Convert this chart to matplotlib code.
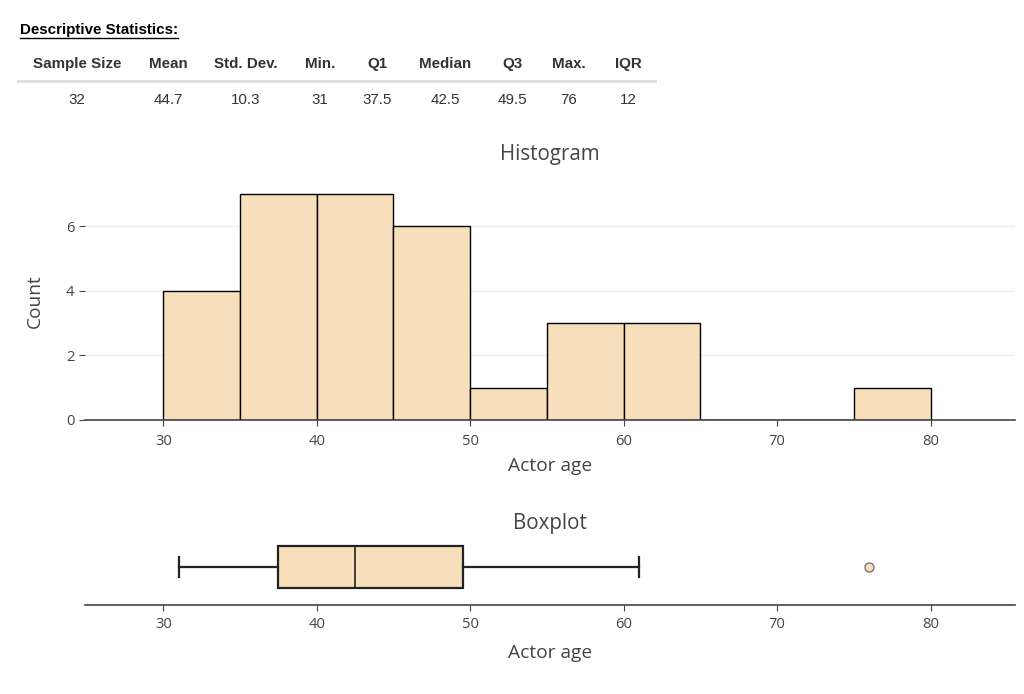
import matplotlib
matplotlib.use("Agg")
import matplotlib.pyplot as plt
import numpy as np

# Data
bin_edges = [30, 35, 40, 45, 50, 55, 60, 65, 70, 75, 80]
counts = [4, 7, 7, 6, 1, 3, 3, 0, 0, 1]
box_stats = {"whislo": 31, "q1": 37.5, "med": 42.5, "q3": 49.5, "whishi": 61, "fliers": [76]}
table_headers = ["Sample Size", "Mean", "Std. Dev.", "Min.", "Q1", "Median", "Q3", "Max.", "IQR"]
table_values = ["32", "44.7", "10.3", "31", "37.5", "42.5", "49.5", "76", "12"]
x_ticks = [30, 40, 50, 60, 70, 80]
y_ticks = [0, 2, 4, 6]

FILL = "#F8DFBB"
TXT = "#444444"
W, H = 1024, 694
fig = plt.figure(figsize=(W / 100, H / 100), dpi=100)

def fx(px):
    return px / W

def fy(py):
    return 1 - py / H

# Table
fig.text(fx(20), fy(30), "Descriptive Statistics:", fontsize=10.9, fontweight="bold",
         family="Liberation Sans", color="black", va="center", ha="left")
fig.add_artist(plt.Line2D([fx(20), fx(178)], [fy(37.5), fy(37.5)], color="black", lw=1))
col_x = [77, 168, 246, 320, 377, 445, 512, 569, 628]
for cx, h, v in zip(col_x, table_headers, table_values):
    fig.text(fx(cx), fy(64), h, fontsize=10.9, fontweight="bold", family="Liberation Sans",
             color="#333333", ha="center", va="center")
    fig.text(fx(cx), fy(100), v, fontsize=10.9, family="Liberation Sans",
             color="#333333", ha="center", va="center")
fig.add_artist(plt.Line2D([fx(18), fx(655)], [fy(81), fy(81)], color="#dddddd", lw=2))

font = "Open Sans"
xlim = (24.9, 85.5)
TICKFS = 10.6
LABFS = 13.8
TITFS = 14.8

# Histogram
ax = fig.add_axes([fx(85), fy(420), fx(930), fy(182) - fy(420)])
widths = np.diff(bin_edges)
ax.bar(bin_edges[:-1], counts, width=widths, align="edge", color=FILL,
       edgecolor="black", linewidth=1, zorder=3)
ax.set_xlim(*xlim)
ax.set_ylim(0, 7.37)
ax.set_xticks(x_ticks)
ax.set_yticks(y_ticks)
ax.grid(axis="y", color="#eeeeee", lw=1, zorder=0)
for s in ["top", "right", "left"]:
    ax.spines[s].set_visible(False)
ax.spines["bottom"].set_color(TXT)
ax.spines["bottom"].set_linewidth(1.2)
ax.spines["bottom"].set_zorder(4)
ax.tick_params(axis="both", colors=TXT, labelsize=TICKFS, length=4, width=0.8)
ax.tick_params(axis="x", pad=6)
for lab in ax.get_xticklabels() + ax.get_yticklabels():
    lab.set_family(font)
ax.set_xlabel("Actor age", fontsize=LABFS, color=TXT, family=font, labelpad=6)
ax.set_ylabel("Count", fontsize=LABFS, color=TXT, family=font, labelpad=16)
ax.set_title("Histogram", fontsize=TITFS, color=TXT, family=font, pad=16)

# Boxplot
bx = fig.add_axes([fx(85), fy(605), fx(930), fy(530) - fy(605)])
st = dict(box_stats)
bx.bxp([st], vert=False, positions=[0], widths=[0.663], patch_artist=True,
       boxprops=dict(facecolor=FILL, edgecolor="#222222", linewidth=1.6),
       medianprops=dict(color="#222222", linewidth=1.2),
       whiskerprops=dict(color="#222222", linewidth=1.6),
       capprops=dict(color="#222222", linewidth=1.6),
       capwidths=[0.33],
       flierprops=dict(marker="o", markerfacecolor=FILL, markeredgecolor="#777777",
                       markersize=6.5, markeredgewidth=1))
bx.set_xlim(*xlim)
bx.set_ylim(-0.6, 0.584)
bx.set_yticks([])
bx.set_xticks(x_ticks)
for s in ["top", "right", "left"]:
    bx.spines[s].set_visible(False)
bx.spines["bottom"].set_color(TXT)
bx.spines["bottom"].set_linewidth(1.2)
bx.tick_params(axis="x", colors=TXT, labelsize=TICKFS, length=4, width=0.8, pad=5)
for lab in bx.get_xticklabels():
    lab.set_family(font)
bx.set_xlabel("Actor age", fontsize=LABFS, color=TXT, family=font, labelpad=8)
bx.set_title("Boxplot", fontsize=TITFS, color=TXT, family=font, y=1.01, pad=0)

fig.savefig("out.png", dpi=100)
